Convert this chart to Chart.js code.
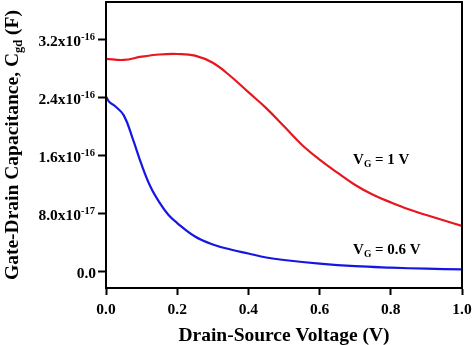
<!DOCTYPE html>
<html>
<head>
<meta charset="utf-8">
<script src="https://cdn.jsdelivr.net/npm/chart.js@4/dist/chart.umd.min.js"></script>
<style>
  html, body { margin: 0; padding: 0; background: #fff; }
  #wrap { width: 474px; height: 345px; position: relative; }
</style>
</head>
<body>
<div id="wrap"><canvas id="c"></canvas></div>
<script>
// ---- Data (Cgd in units of 1e-16 F) ----
const vdsVg1 = [0, 0.05, 0.1, 0.15, 0.2, 0.25, 0.3, 0.35, 0.4, 0.45, 0.5, 0.55, 0.6, 0.65, 0.7, 0.75, 0.8, 0.85, 0.9, 0.95, 1.0];
const cgdVg1 = [2.94, 2.925, 2.97, 3.0, 3.007, 2.985, 2.885, 2.70, 2.48, 2.26, 2.01, 1.755, 1.55, 1.37, 1.20, 1.065, 0.96, 0.865, 0.785, 0.71, 0.634];
const vdsVg06 = [0, 0.01, 0.025, 0.05, 0.075, 0.1, 0.125, 0.15, 0.175, 0.2, 0.25, 0.3, 0.35, 0.4, 0.45, 0.5, 0.6, 0.7, 0.8, 0.9, 1.0];
const cgdVg06 = [2.42, 2.34, 2.29, 2.16, 1.84, 1.48, 1.175, 0.96, 0.79, 0.675, 0.49, 0.38, 0.31, 0.255, 0.20, 0.165, 0.115, 0.08, 0.06, 0.045, 0.035];

const seriesNames = ["V_G = 1 V", "V_G = 0.6 V"];
const xTickValues = [0, 0.2, 0.4, 0.6, 0.8, 1.0];
const yTickValues = [0, 0.8, 1.6, 2.4, 3.2];
const yTickBase = ["0.0", "8.0x10", "1.6x10", "2.4x10", "3.2x10"];
const yTickExp = ["", "-17", "-16", "-16", "-16"];
const xTitle = "Drain-Source Voltage (V)";
const yTitleParts = ["Gate-Drain Capacitance, C", "gd", " (F)"];
// curve label anchors (data coords: V, Cgd)
const labelAnchors = [[0.694, 1.49], [0.694, 0.25]];

const FONT = '"Liberation Serif", "Times New Roman", serif';

const toPts = (xs, ys) => xs.map((x, i) => ({x: x, y: ys[i]}));

const annot = {
  id: 'annot',
  afterDraw(chart) {
    const ctx = chart.ctx;
    const ca = chart.chartArea;
    const xs = chart.scales.x, ys = chart.scales.y;
    ctx.save();
    // frame
    ctx.strokeStyle = '#000';
    ctx.lineWidth = 2;
    ctx.strokeRect(ca.left, ca.top, ca.right - ca.left, ca.bottom - ca.top);

    ctx.fillStyle = '#000';
    // y tick labels with superscripts
    const rightX = 95;
    yTickValues.forEach((v, i) => {
      const py = ys.getPixelForValue(v);
      ctx.font = 'bold 10.5px ' + FONT;
      const ew = yTickExp[i] ? ctx.measureText(yTickExp[i]).width : 0;
      ctx.textAlign = 'left';
      ctx.textBaseline = 'alphabetic';
      if (yTickExp[i]) ctx.fillText(yTickExp[i], rightX - ew, py + 0.5);
      ctx.font = 'bold 15.5px ' + FONT;
      ctx.textAlign = 'right';
      ctx.fillText(yTickBase[i], rightX - ew + (yTickExp[i] ? 0 : 1), py + 6);
    });

    // y title (rotated) with subscript
    ctx.save();
    ctx.translate(18, 145);
    ctx.rotate(-Math.PI / 2);
    const fMain = 'bold 19.5px ' + FONT, fSub = 'bold 12.5px ' + FONT;
    ctx.font = fMain; const w0 = ctx.measureText(yTitleParts[0]).width;
    ctx.font = fSub; const w1 = ctx.measureText(yTitleParts[1]).width;
    ctx.font = fMain; const w2 = ctx.measureText(yTitleParts[2]).width;
    let sx = -(w0 + w1 + w2) / 2;
    ctx.textAlign = 'left';
    ctx.textBaseline = 'alphabetic';
    ctx.font = fMain; ctx.fillText(yTitleParts[0], sx, 0); sx += w0;
    ctx.font = fSub; ctx.fillText(yTitleParts[1], sx, 4); sx += w1;
    ctx.font = fMain; ctx.fillText(yTitleParts[2], sx, 0);
    ctx.restore();

    // x title
    ctx.font = fMain;
    ctx.textAlign = 'center';
    ctx.textBaseline = 'alphabetic';
    ctx.fillText(xTitle, (ca.left + ca.right) / 2, 341);

    // curve labels "V_G = ..."
    seriesNames.forEach((name, i) => {
      const parts = name.split('_');
      const main1 = parts[0];           // "V"
      const sub = parts[1].charAt(0);   // "G"
      const rest = parts[1].slice(1);   // " = 1 V"
      const px = xs.getPixelForValue(labelAnchors[i][0]);
      const py = ys.getPixelForValue(labelAnchors[i][1]);
      ctx.textAlign = 'left';
      ctx.font = 'bold 15px ' + FONT;
      ctx.fillText(main1, px, py);
      let x = px + ctx.measureText(main1).width;
      ctx.font = 'bold 9.5px ' + FONT;
      ctx.fillText(sub, x, py + 3);
      x += ctx.measureText(sub).width;
      ctx.font = 'bold 15px ' + FONT;
      ctx.fillText(rest, x, py);
    });
    ctx.restore();
  }
};

new Chart(document.getElementById('c'), {
  type: 'line',
  data: {
    datasets: [
      { label: seriesNames[0], data: toPts(vdsVg1, cgdVg1), borderColor: 'rgb(232,22,30)', borderWidth: 2.2, pointRadius: 0, tension: 0.4, fill: false },
      { label: seriesNames[1], data: toPts(vdsVg06, cgdVg06), borderColor: 'rgb(22,22,228)', borderWidth: 2.2, pointRadius: 0, tension: 0.4, fill: false }
    ]
  },
  options: {
    responsive: true,
    maintainAspectRatio: false,
    animation: false,
    layout: { padding: { left: 0, right: 12, top: 2, bottom: 0 } },
    plugins: { legend: { display: false }, tooltip: { enabled: false } },
    scales: {
      x: {
        type: 'linear', min: 0, max: 1,
        afterBuildTicks: s => { s.ticks = xTickValues.map(v => ({ value: v })); },
        afterFit: s => { s.height = 57; s.paddingLeft = 0; s.paddingRight = 0; },
        ticks: { callback: v => v.toFixed(1), color: '#000', font: { family: FONT, size: 15.5, weight: 'bold' }, padding: 6, maxRotation: 0 },
        grid: { drawOnChartArea: false, drawTicks: true, tickLength: 7, tickColor: '#000', tickWidth: 2 },
        border: { color: '#000', width: 2 }
      },
      y: {
        type: 'linear', min: -0.221, max: 3.724,
        afterBuildTicks: s => { s.ticks = yTickValues.map(v => ({ value: v })); },
        afterFit: s => { s.width = 106; s.paddingTop = 0; s.paddingBottom = 0; },
        ticks: { display: false },
        grid: { drawOnChartArea: false, drawTicks: true, tickLength: 8, tickColor: '#000', tickWidth: 2 },
        border: { color: '#000', width: 2 }
      }
    }
  },
  plugins: [annot]
});
</script>
</body>
</html>
